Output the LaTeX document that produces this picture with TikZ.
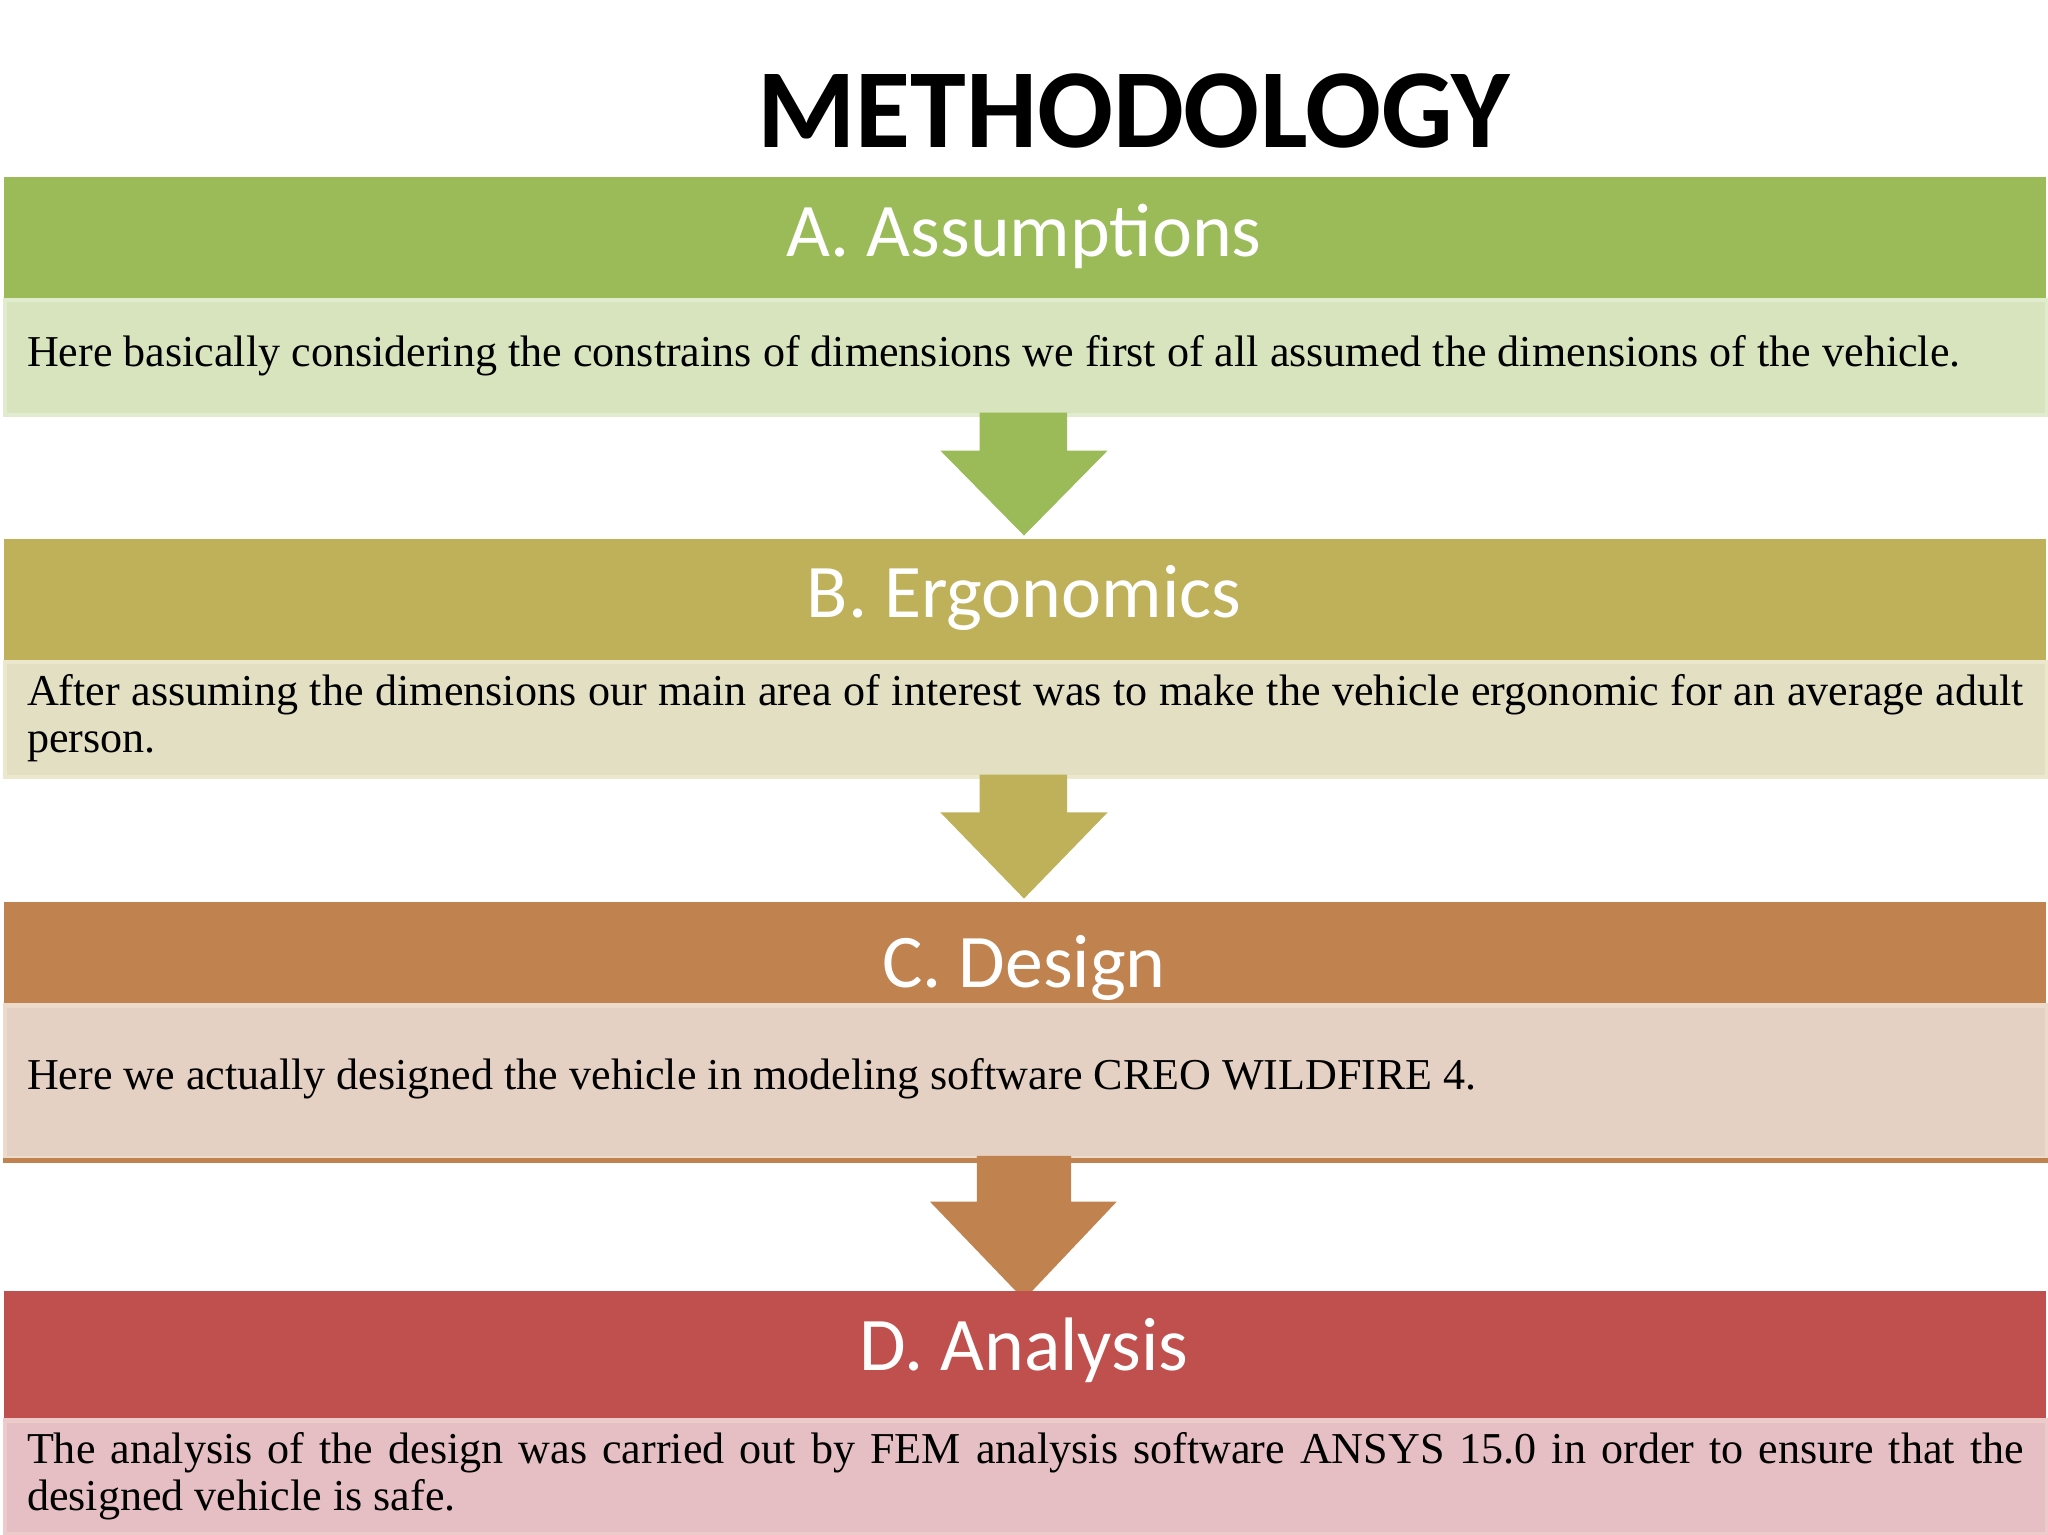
\documentclass[tikz,border=0pt]{standalone}
\usepackage{fontspec}
\setmainfont{Liberation Serif}
\newfontfamily\carl{Carlito}
\definecolor{gA}{HTML}{9BBB59}\definecolor{gAl}{HTML}{D7E4BD}
\definecolor{gB}{HTML}{BFB15A}\definecolor{gBl}{HTML}{E2DFC3}
\definecolor{gC}{HTML}{C0834F}\definecolor{gCl}{HTML}{E5D1C3}
\definecolor{gD}{HTML}{C0504D}\definecolor{gDl}{HTML}{E6BFC4}
\begin{document}
\begin{tikzpicture}[x=0.01cm,y=-0.01cm,
 hdr/.style={rectangle,anchor=north west,minimum width=15.63cm,inner sep=0},
 htx/.style={text=white,font=\carl\fontsize{16.5}{18}\selectfont},
 bdy/.style={rectangle,anchor=north west,minimum width=15.63cm,inner sep=0,draw=white!70!#1,line width=1pt},
 txt/.style={anchor=west,inner sep=0,text width=15.28cm,align=justify,font=\fontsize{9.6}{10.3}\selectfont}]
\useasboundingbox[fill=white](0,0) rectangle (1568,1175);
\node[font=\carl\bfseries\fontsize{24.5}{26}\selectfont] (title) at (868,85) {METHODOLOGY};
% A
\node[hdr,fill=gA,minimum height=0.93cm] (ha) at (2,135) {};
\node[htx] (ta) at (784,181) {A. Assumptions};
\node[bdy=gA,fill=gAl,minimum height=0.88cm] (ba) at (2,228) {};
\node[txt] (xa) at (20,272) {Here basically considering the constrains of dimensions we first of all assumed the dimensions of the vehicle.};
\fill[gA] (750,316)--(817,316)--(817,345)--(848,345)--(784,410)--(720,345)--(750,345)--cycle;
% B
\node[hdr,fill=gB,minimum height=0.93cm] (hb) at (2,412) {};
\node[htx] (tb) at (784,458) {B. Ergonomics};
\node[bdy=gB,fill=gBl,minimum height=0.88cm] (bb) at (2,505) {};
\node[txt] (xb) at (20,550) {After assuming the dimensions our main area of interest was to make the vehicle ergonomic for an average adult person.};
\fill[gB] (750,593)--(817,593)--(817,622)--(848,622)--(784,688)--(720,622)--(750,622)--cycle;
% C
\node[hdr,fill=gC,minimum height=0.78cm] (hc) at (2,690) {};
\node[htx] (tc) at (784,741) {C. Design};
\node[bdy=gC,fill=gCl,minimum height=1.17cm] (bc) at (2,768) {};
\draw[gC,line width=1pt] (bc.south west)--(bc.south east);
\node[txt] (xc) at (20,826) {Here we actually designed the vehicle in modeling software CREO WILDFIRE 4.};
\fill[gC] (748,885)--(820,885)--(820,920)--(855,920)--(784,995)--(712,920)--(748,920)--cycle;
% D
\node[hdr,fill=gD,minimum height=0.98cm] (hd) at (2,988) {};
\node[htx] (td) at (784,1034) {D. Analysis};
\node[bdy=gD,fill=gDl,minimum height=0.87cm] (bd) at (2,1086) {};
\node[txt] (xd) at (20,1130) {The analysis of the design was carried out by FEM analysis software ANSYS 15.0 in order to ensure that the designed vehicle is safe.};
\end{tikzpicture}
\end{document}
